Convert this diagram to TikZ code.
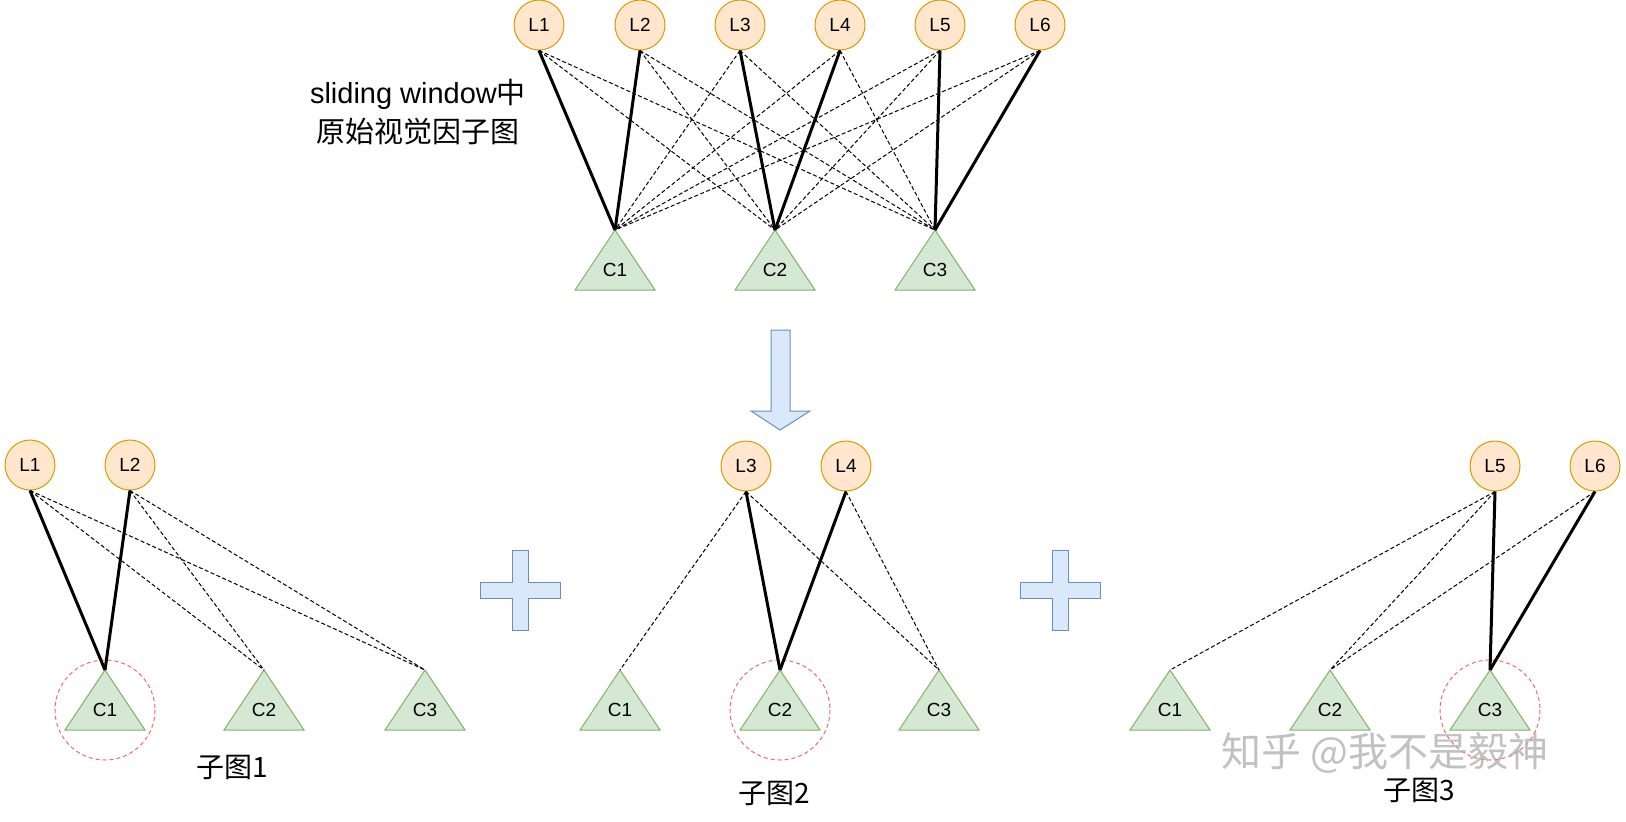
\documentclass[tikz,border=0pt]{standalone}
\usepackage{fontspec}
\setmainfont{Liberation Sans}
\newfontfamily\cjk{Noto Sans CJK SC}
\begin{document}
\begin{tikzpicture}[x=0.5pt,y=-0.5pt,
  lnode/.style={circle,draw=lstroke,fill=lfill,line width=0.5pt,minimum size=25pt,inner sep=0pt,font=\fontsize{9.5}{11}\selectfont},
  tri/.style={draw=tstroke,fill=tfill,line width=0.5pt},
  tlab/.style={font=\fontsize{9.5}{11}\selectfont},
  strong/.style={line width=1.5pt},
  weak/.style={line width=0.5pt,dash pattern=on 2pt off 1.2pt},
  blk/.style={draw=bstroke,fill=bfill,line width=0.5pt},
  sel/.style={draw=selc,line width=0.5pt,dash pattern=on 2pt off 1.5pt},
  subcap/.style={font=\fontsize{14}{18}\selectfont\cjk}]
\definecolor{lfill}{HTML}{FFE6CC}\definecolor{lstroke}{HTML}{D79B00}
\definecolor{tfill}{HTML}{D5E8D4}\definecolor{tstroke}{HTML}{82B366}
\definecolor{bfill}{HTML}{DAE8FC}\definecolor{bstroke}{HTML}{6C8EBF}
\definecolor{selc}{HTML}{EA6B66}
\useasboundingbox (0,0) rectangle (1626,821);
\newcommand\mytri[4]{%
  \draw[tri] (#2,#3) -- (#2+40,#3+60) -- (#2-40,#3+60) -- cycle;
  \coordinate (#1) at (#2,#3);
  \node[tlab] (#1l) at (#2,#3+40) {#4};}
% ---- top ----
\foreach \i/\x in {1/539,2/640,3/740,4/840,5/940,6/1040}
  \node[lnode] (T\i) at (\x,25) {L\i};
\mytri{TC1}{615}{230}{C1}
\mytri{TC2}{775}{230}{C2}
\mytri{TC3}{935}{230}{C3}
\node[align=center,font=\fontsize{14.5}{19.5}\selectfont] (title) at (418,112) {sliding window{\cjk 中}\\{\cjk 原始视觉因子图}};
\foreach \l/\c in {1/1,2/1,3/2,4/2,5/3,6/3} \draw[strong] (T\l.south) -- (TC\c);
\foreach \l/\c in {1/2,1/3,2/2,2/3,3/1,3/3,4/1,4/3,5/1,5/2,6/1,6/2} \draw[weak] (T\l.south) -- (TC\c);
% arrow
\draw[blk] (771,330) -- (790,330) -- (790,411) -- (810,411) -- (780,430) -- (751,411) -- (771,411) -- cycle;
% ---- subgraph 1 ----
\node[lnode] (A1) at (30,465) {L1};
\node[lnode] (A2) at (130,465) {L2};
\draw[sel] (105,710) circle (50);
\mytri{AC1}{105}{670}{C1}
\mytri{AC2}{264}{670}{C2}
\mytri{AC3}{425}{670}{C3}
\draw[strong] (A1.south) -- (AC1); \draw[strong] (A2.south) -- (AC1);
\foreach \l/\c in {1/2,1/3,2/2,2/3} \draw[weak] (A\l.south) -- (AC\c);
\node[subcap] (s1) at (232,767) {子图1};
% plus 1
\draw[blk] (512,550) -- (528,550) -- (528,582) -- (560,582) -- (560,598) -- (528,598) -- (528,630) -- (512,630) -- (512,598) -- (480,598) -- (480,582) -- (512,582) -- cycle;
% ---- subgraph 2 ----
\node[lnode] (B3) at (746,466) {L3};
\node[lnode] (B4) at (846,466) {L4};
\draw[sel] (780,710) circle (50);
\mytri{BC1}{620}{670}{C1}
\mytri{BC2}{780}{670}{C2}
\mytri{BC3}{939}{670}{C3}
\draw[strong] (B3.south) -- (BC2); \draw[strong] (B4.south) -- (BC2);
\foreach \l/\c in {3/1,3/3,4/3} \draw[weak] (B\l.south) -- (BC\c);
\node[subcap] (s2) at (774,793) {子图2};
% plus 2
\draw[blk] (1052,550) -- (1068,550) -- (1068,582) -- (1100,582) -- (1100,598) -- (1068,598) -- (1068,630) -- (1052,630) -- (1052,598) -- (1020,598) -- (1020,582) -- (1052,582) -- cycle;
% ---- subgraph 3 ----
\node[lnode] (D5) at (1495,466) {L5};
\node[lnode] (D6) at (1595,466) {L6};
\draw[sel] (1490,710) circle (50);
\mytri{DC1}{1170}{670}{C1}
\mytri{DC2}{1330}{670}{C2}
\mytri{DC3}{1490}{670}{C3}
\draw[strong] (D5.south) -- (DC3); \draw[strong] (D6.south) -- (DC3);
\foreach \l/\c in {5/1,5/2,6/2} \draw[weak] (D\l.south) -- (DC\c);
\node[text=gray!60,font=\fontsize{20}{24}\selectfont\cjk,opacity=0.8] (wm) at (1385,753) {知乎 @我不是毅神};
\node[subcap] (s3) at (1419,790) {子图3};
\end{tikzpicture}
\end{document}
